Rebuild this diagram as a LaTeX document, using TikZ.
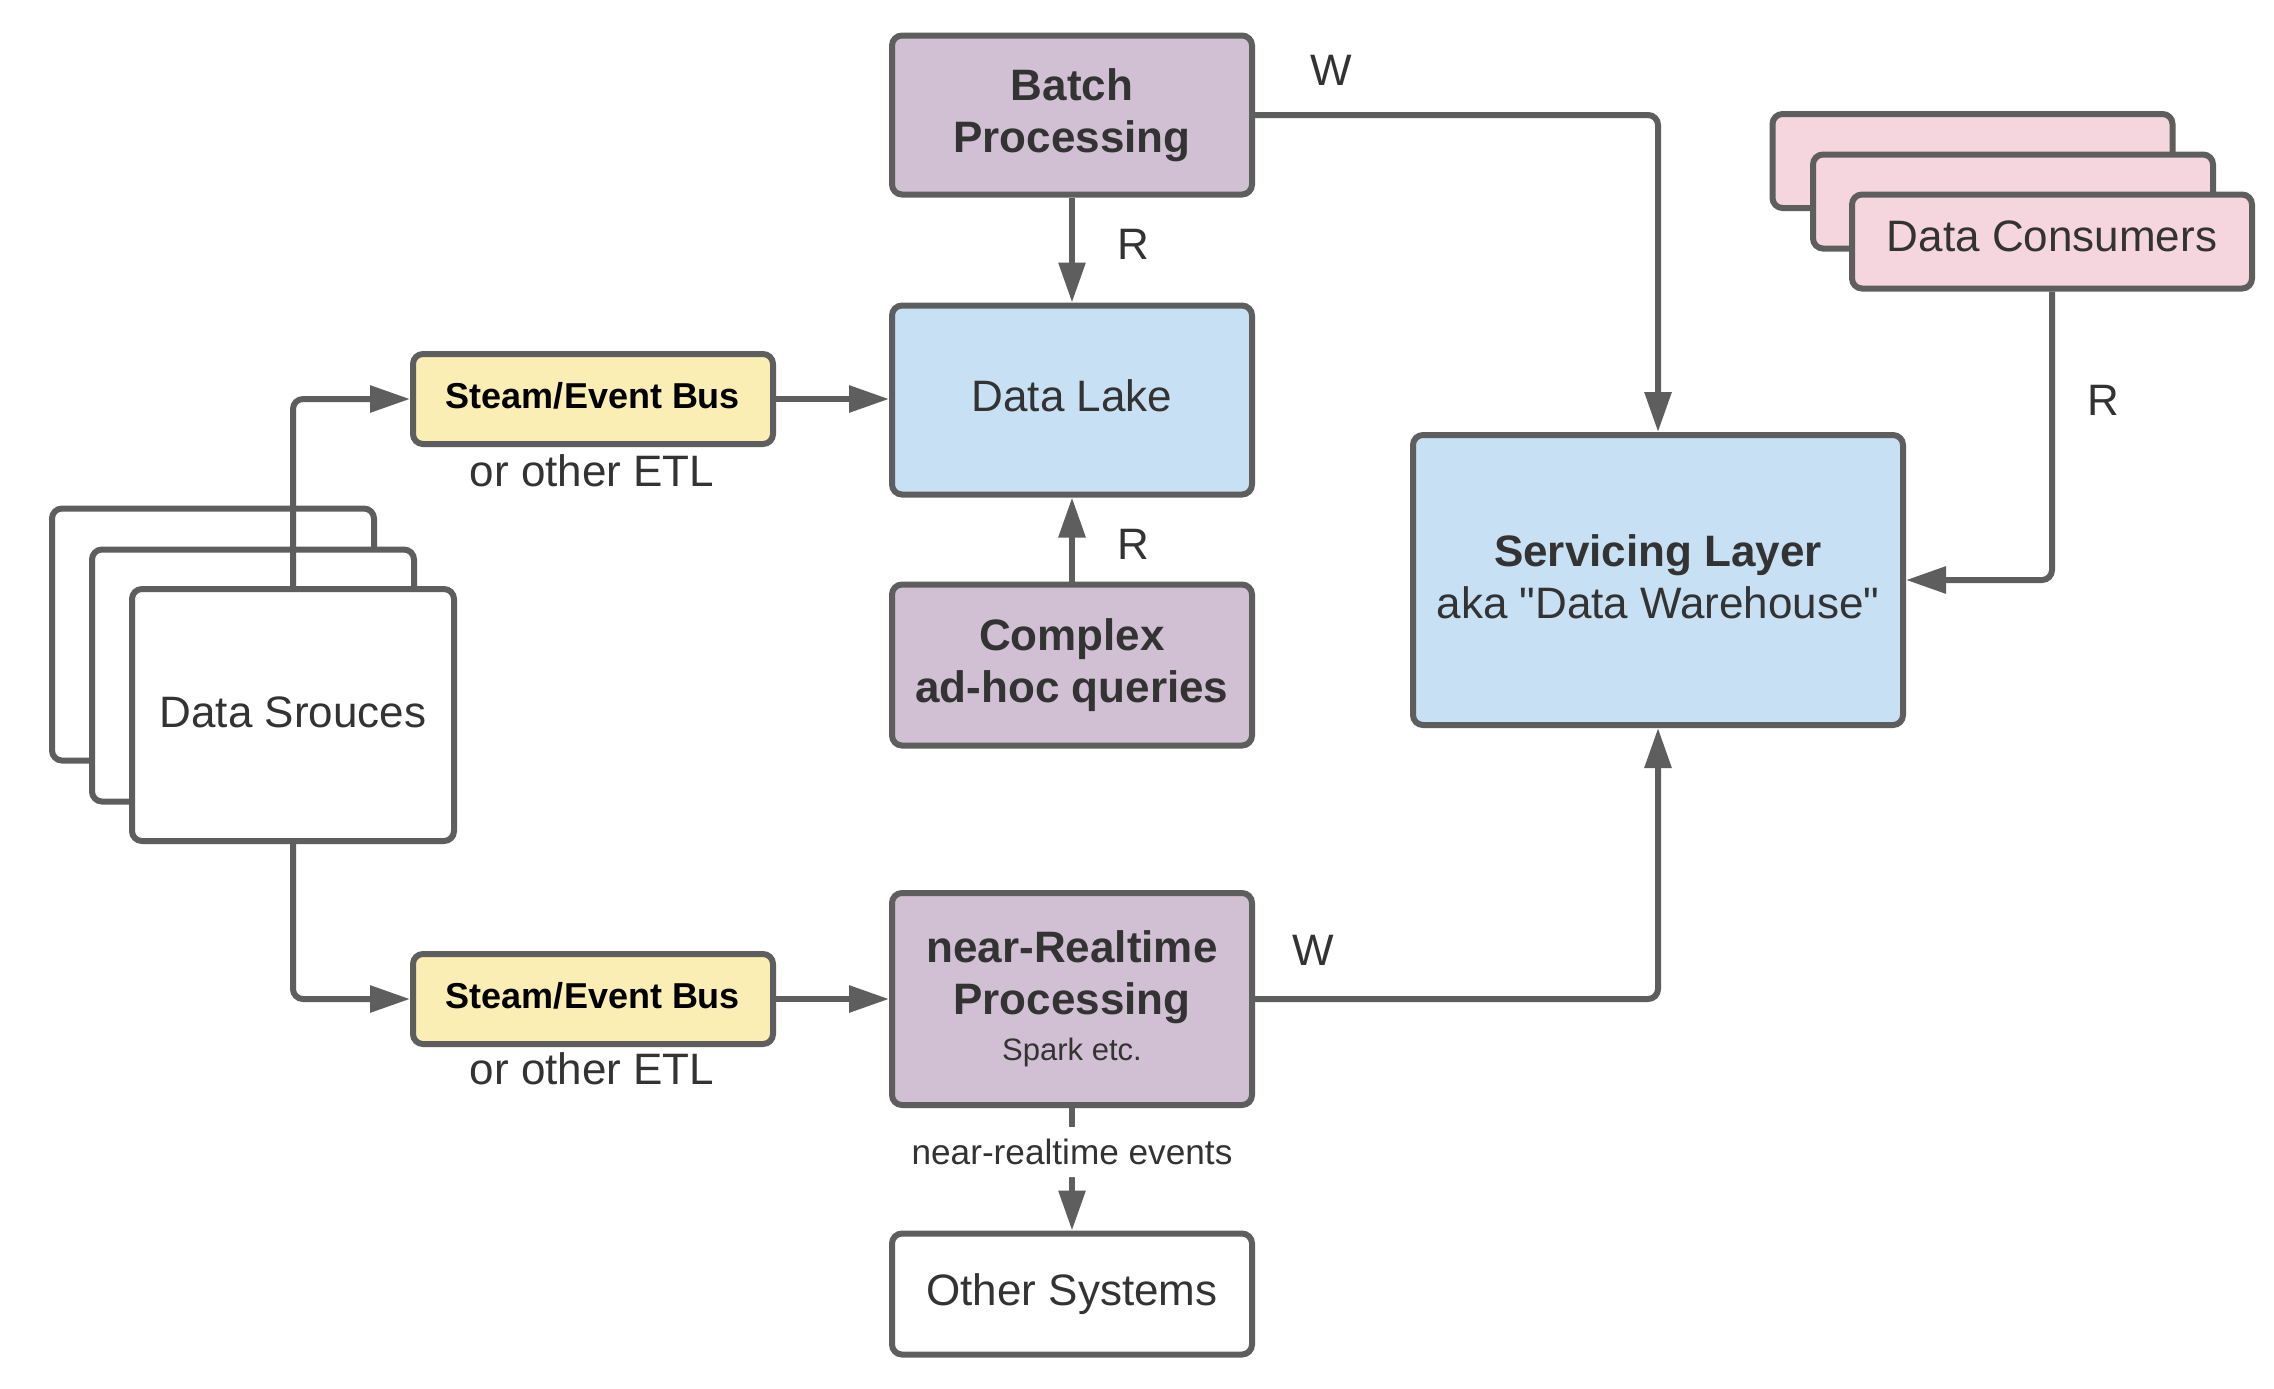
\documentclass[tikz,border=0pt]{standalone}
\usepackage{fontspec}
\setmainfont{Liberation Sans}[Ligatures=TeXOff]
\usetikzlibrary{arrows.meta}
\definecolor{lc}{HTML}{5E5E5E}
\definecolor{tc}{HTML}{333333}
\definecolor{purp}{HTML}{D1BFD3}
\definecolor{blu}{HTML}{C7E0F4}
\definecolor{yel}{HTML}{FBEEB5}
\definecolor{pnk}{HTML}{F5D5DE}
\begin{document}
\begin{tikzpicture}[x=0.5pt,y=-0.5pt,
 box/.style={draw=lc, line width=3pt, rounded corners=5pt, align=center, text=tc, inner sep=0pt, font=\fontsize{22}{26}\selectfont},
 bbox/.style={box, font=\bfseries\fontsize{22}{26}\selectfont},
 busbox/.style={box, fill=yel, minimum width=180pt, minimum height=45pt, text=black, font=\bfseries\fontsize{18}{22}\selectfont},
 conn/.style={draw=lc, line width=3pt, rounded corners=5pt, -{Triangle[length=20pt,width=13pt]}},
 lbl/.style={text=tc, font=\fontsize{22}{26}\selectfont, inner sep=0pt},
]
\useasboundingbox[fill=white] (0,0) rectangle (2274,1388);

% data sources stack
\node[box, fill=white, minimum width=161pt, minimum height=126pt] (dsA) at (213,634.5) {};
\node[box, fill=white, minimum width=161pt, minimum height=126pt] (dsB) at (253,675.5) {};
\node[box, fill=white, minimum width=161pt, minimum height=126pt] (ds) at (293,715) {\raisebox{3pt}{Data Srouces}};

% consumers stack
\node[box, fill=pnk, minimum width=200pt, minimum height=47pt] (consA) at (1972.5,161) {};
\node[box, fill=pnk, minimum width=200pt, minimum height=47pt] (consB) at (2013,201.5) {};
\node[box, fill=pnk, minimum width=200pt, minimum height=47pt] (cons) at (2052,241.5) {\raisebox{5pt}{Data Consumers}};

% buses
\node[busbox] (bus1) at (593,399) {\raisebox{4pt}{Steam/Event Bus}};
\node[busbox] (bus2) at (593,999) {\raisebox{4pt}{Steam/Event Bus}};
\node[lbl] (etl1) at (592,471) {or other ETL};
\node[lbl] (etl2) at (592,1069) {or other ETL};

% center column
\node[bbox, fill=purp, minimum width=180pt, minimum height=79.5pt] (batch) at (1072,115) {\raisebox{3pt}{Batch}\\\raisebox{3pt}{Processing}};
\node[box, fill=blu, minimum width=180pt, minimum height=94.5pt] (lake) at (1072,400) {\raisebox{4pt}{Data Lake}};
\node[bbox, fill=purp, minimum width=180pt, minimum height=80.5pt] (cplx) at (1072,665) {Complex\\ad-hoc queries};
\node[bbox, fill=purp, minimum width=180pt, minimum height=106pt] (nrt) at (1072,999) {\raisebox{2pt}{near-Realtime}\\\raisebox{2pt}{Processing}\\[-5pt]{\mdseries\fontsize{15.5}{26}\selectfont Spark etc.}};
\node[box, fill=white, minimum width=180pt, minimum height=60.5pt] (oth) at (1072,1294) {Other Systems};

% servicing layer
\node[box, fill=blu, minimum width=245pt, minimum height=145pt] (serv) at (1658,580) {\raisebox{3pt}{\bfseries Servicing Layer}\\\raisebox{3pt}{aka "Data Warehouse"}};

% connectors
\draw[conn] (ds.north) |- (bus1.west);
\draw[conn] (ds.south) |- (bus2.west);
\draw[conn] (bus1.east) -- (bus1.east -| lake.west);
\draw[conn] (bus2.east) -- (bus2.east -| nrt.west);
\draw[conn] (batch) -- (lake);
\draw[conn] (cplx) -- (lake);
\draw[conn] (batch.east) -| (serv.north);
\draw[conn] (nrt.east) -| (serv.south);
\draw[conn] (cons.south) |- (serv.east);
\draw[conn] (nrt) -- node[pos=0.36, fill=white, inner xsep=2pt, inner ysep=6pt, text=tc, font=\fontsize{17.6}{20}\selectfont] (evl) {near-realtime events} (oth);

% labels
\node[lbl] (w1) at (1331,70) {W};
\node[lbl] (r1) at (1133,244) {R};
\node[lbl] (r2) at (1133,544) {R};
\node[lbl] (w2) at (1313,950) {W};
\node[lbl] (r3) at (2103,400) {R};
\end{tikzpicture}
\end{document}
